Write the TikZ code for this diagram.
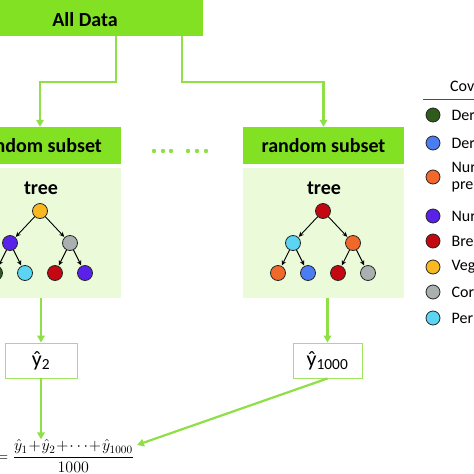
\RequirePackage{fix-cm}
\documentclass[tikz,border=0pt]{standalone}
\usepackage{amsmath}
\usepackage{fontspec}
\setmainfont{Carlito}
\usepackage{xcolor}
\usepackage{tikz}
\usetikzlibrary{positioning,arrows.meta,calc}
\definecolor{rfLime}{HTML}{82E122}
\definecolor{rfLine}{HTML}{8EE046}
\definecolor{rfPale}{HTML}{EBFAD9}
\definecolor{rfDkGreen}{HTML}{2F5C1A}
\definecolor{rfBlue}{HTML}{4A7DF2}
\definecolor{rfOrange}{HTML}{F0682A}
\definecolor{rfPurple}{HTML}{5A22E8}
\definecolor{rfRed}{HTML}{C40812}
\definecolor{rfYellow}{HTML}{F8B822}
\definecolor{rfGrey}{HTML}{A9B0AF}
\definecolor{rfCyan}{HTML}{5CD5F5}
\tikzset{
  hdbox/.style={fill=rfLime, minimum width=161pt, minimum height=37pt, inner sep=0pt, font=\fontsize{20}{24}\selectfont\bfseries},
  panel/.style={fill=rfPale, minimum width=161pt, minimum height=130pt, inner sep=0pt},
  leaf/.style={circle, draw=black!85, line width=0.8pt, minimum size=15pt, inner sep=0pt},
  twig/.style={black, line width=0.9pt, -{Stealth[length=5pt,width=4.5pt]}, shorten >=0.5pt},
  link/.style={draw=rfLine, line width=2.2pt, -{Triangle[length=7pt,width=7.5pt]}},
  predbox/.style={draw=rfLine!85, line width=0.9pt, minimum height=35pt, inner sep=1pt, font=\fontsize{22}{24}\selectfont},
  lgtext/.style={inner sep=1pt, align=left, font=\fontsize{16}{16.5}\selectfont}
}
\newcommand{\tleaf}[4]{\node[leaf, fill=#4] (#3) at (#1,#2) {};}
\newcommand{\lgitem}[4]{%
 \node[leaf, minimum size=14pt, fill=#3] (#1) at (433,#2) {};%
 \node[lgtext, right=10pt of #1] (#1t) {#4};}

\begin{document}
\begin{tikzpicture}[x=1pt,y=-1pt]
\useasboundingbox (0,0) rectangle (474,474);
% top box
\node[hdbox, minimum width=236pt, minimum height=40pt, text height=20pt, text depth=0pt] (alldata) at (85,16) {All Data};
% subsets
\node[hdbox] (subL) at (40,145.5) {random subset};
\node[hdbox] (subR) at (323.5,145.5) {random subset};
\foreach \x in {154,163,171,188,197,206} \fill[rfLine] (\x,151) circle (2.2);
\draw[link] ([xshift=31pt]alldata.south) -- ++(0,46) -| (subL.north);
\draw[link] ([xshift=97pt]alldata.south) -- ++(0,46) -| (subR.north);
% panels
\node[panel] (panelL) at (40,233) {};
\node[panel] (panelR) at (323.5,233) {};
\node[font=\fontsize{20}{24}\selectfont\bfseries] (treeL) at (41,188) {tree};
\node[font=\fontsize{20}{24}\selectfont\bfseries] (treeR) at (324,188) {tree};
% left tree
\tleaf{40}{211}{lr}{rfYellow}
\tleaf{10}{243}{la}{rfPurple}
\tleaf{70}{243}{lb}{rfGrey}
\tleaf{-5}{273}{laa}{rfDkGreen}
\tleaf{25}{273}{lab}{rfCyan}
\tleaf{55}{273}{lba}{rfRed}
\tleaf{85}{273}{lbb}{rfPurple}
% right tree
\tleaf{323}{211}{rr}{rfRed}
\tleaf{293}{243}{ra}{rfCyan}
\tleaf{353}{243}{rb}{rfOrange}
\tleaf{278}{273}{raa}{rfOrange}
\tleaf{308}{273}{rab}{rfBlue}
\tleaf{338}{273}{rba}{rfRed}
\tleaf{368}{273}{rbb}{rfGrey}
\foreach \p/\c in {lr/la,lr/lb,la/laa,la/lab,lb/lba,lb/lbb,rr/ra,rr/rb,ra/raa,ra/rab,rb/rba,rb/rbb}
  \draw[twig] (\p) -- (\c);
% predictions
\node[predbox, minimum width=72pt] (yL) at (41,360.5) {ŷ\textsubscript{2}};
\node[predbox, minimum width=69pt] (yR) at (327.5,360.5) {ŷ\textsubscript{1000}};
\draw[link] (yL.north |- panelL.south) -- (yL.north);
\draw[link] (yR.north |- panelR.south) -- (yR.north);
\node[anchor=west, inner sep=0pt, font=\fontsize{16}{18}\selectfont] (avg) at (-4,456)
  {$\medmuskip=1mu =\dfrac{\hat{y}_1+\hat{y}_2+\cdots+\hat{y}_{1000}}{1000}$};
\draw[link] (yL.south) -- (yL.south |- avg.north);
\draw[link] (yR.south) -- ([xshift=3pt,yshift=11pt]avg.east);
% legend
\node[lgtext, anchor=west] (covtitle) at (449,86) {Cov};
\draw[black!70, line width=0.8pt] (423,99) -- (480,99);
\lgitem{lg1}{115}{rfDkGreen}{Der}
\lgitem{lg2}{143}{rfBlue}{Der}
\lgitem{lg3}{177}{rfOrange}{Nur\\pre}
\lgitem{lg4}{216}{rfPurple}{Nur}
\lgitem{lg5}{241}{rfRed}{Bre}
\lgitem{lg6}{267}{rfYellow}{Veg}
\lgitem{lg7}{292}{rfGrey}{Cor}
\lgitem{lg8}{318}{rfCyan}{Per}
\end{tikzpicture}
\end{document}
